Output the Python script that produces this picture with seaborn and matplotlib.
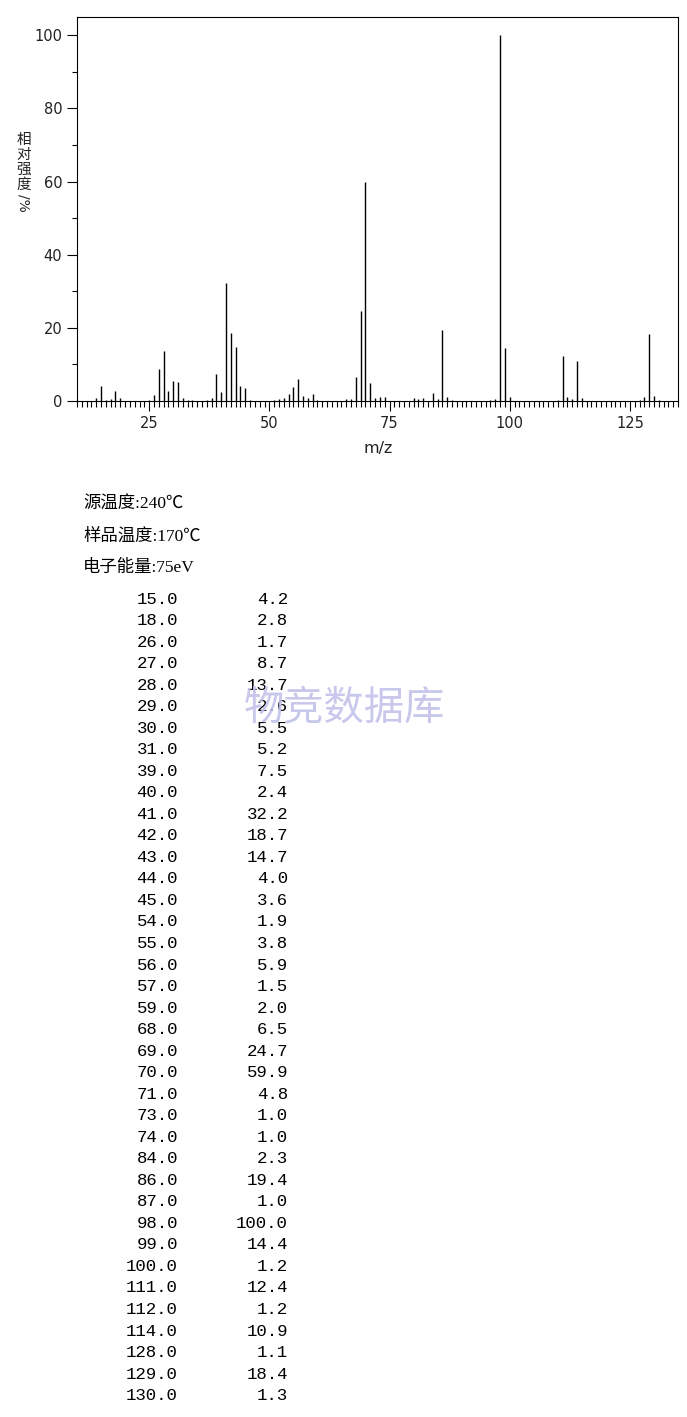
import matplotlib
matplotlib.use("Agg")
import matplotlib.pyplot as plt
import seaborn as sns
import numpy as np

# ---- data (from the listed peak table) ----
mz = [15.0, 18.0, 26.0, 27.0, 28.0, 29.0, 30.0, 31.0, 39.0, 40.0, 41.0, 42.0,
      43.0, 44.0, 45.0, 54.0, 55.0, 56.0, 57.0, 59.0, 68.0, 69.0, 70.0, 71.0,
      73.0, 74.0, 84.0, 86.0, 87.0, 98.0, 99.0, 100.0, 111.0, 112.0, 114.0,
      128.0, 129.0, 130.0]
intensity = [4.2, 2.8, 1.7, 8.7, 13.7, 2.6, 5.5, 5.2, 7.5, 2.4, 32.2, 18.7,
             14.7, 4.0, 3.6, 1.9, 3.8, 5.9, 1.5, 2.0, 6.5, 24.7, 59.9, 4.8,
             1.0, 1.0, 2.3, 19.4, 1.0, 100.0, 14.4, 1.2, 12.4, 1.2, 10.9,
             1.1, 18.4, 1.3]
# small (<1 %) peaks
mz_minor = [14, 16, 17, 19, 25, 32, 33, 34, 37, 38, 46, 51, 52, 53, 58, 60,
            66, 67, 72, 80, 81, 82, 85, 88, 96, 97, 110, 113, 115, 127, 131]
int_minor = [0.7, 0.4, 0.6, 0.9, 0.4, 0.9, 0.3, 0.3, 0.4, 0.9, 0.4, 0.4, 0.5,
             0.8, 0.7, 0.3, 0.5, 0.6, 0.7, 0.8, 0.6, 0.9, 0.6, 0.4, 0.4, 0.6,
             0.4, 0.6, 0.8, 0.4, 0.3]
info_lines = ["源温度:240℃", "样品温度:170℃", "电子能量:75eV"]
y_ticks = [0, 20, 40, 60, 80, 100]
x_ticks = [25, 50, 75, 100, 125]
ylabel_chars = ["相", "对", "强", "度"]

sns.set_theme(style="ticks")
plt.rcParams['font.family'] = ['DejaVu Sans', 'Noto Sans CJK SC']

W, H = 687, 1417
fig = plt.figure(figsize=(W / 100, H / 100), dpi=100)
fig.patch.set_facecolor("white")

def fx(px):
    return px / W

def fy(py):
    return 1 - py / H

ax = fig.add_axes([fx(77), fy(401), fx(678) - fx(77), fy(17) - fy(401)])
ax.set_facecolor("white")

all_mz = list(mz) + list(mz_minor)
all_int = list(intensity) + list(int_minor)
ax.vlines(all_mz, 0, all_int, colors="black", linewidth=1.0)

ax.set_xlim(10, 135)
ax.set_ylim(0, 105)
ax.set_yticks(y_ticks)
ax.set_yticklabels([str(v) for v in y_ticks])
ax.set_yticks(np.arange(10, 101, 20), minor=True)
ax.set_xticks(x_ticks)
ax.set_xticklabels([str(v) for v in x_ticks])
ax.set_xticks(np.arange(10, 136, 1), minor=True)

for s in ax.spines.values():
    s.set_color("black")
    s.set_linewidth(0.8)

ax.tick_params(axis="y", which="major", length=7.2, width=0.8, color="black",
               pad=3.5, labelsize=10.5, labelcolor="#222222", direction="out")
ax.tick_params(axis="y", which="minor", length=3.6, width=0.8, color="black",
               direction="out")
ax.tick_params(axis="x", which="major", length=7.5, width=0.8, color="black",
               pad=3.5, labelsize=10.5, labelcolor="#222222", direction="out")
ax.tick_params(axis="x", which="minor", length=4.3, width=0.8, color="black",
               direction="out")
ax.set_xlabel("")
ax.set_ylabel("")

# axis labels
fig.text(fx(378), fy(449), "m/z", ha="center", va="center", fontsize=11.5,
         color="#222222", family=["DejaVu Sans"])
for i, ch in enumerate(ylabel_chars):
    fig.text(fx(24), fy(140 + i * 15), ch, ha="center", va="center",
             fontsize=10.5, color="#222222", family=["Noto Sans CJK SC"])
fig.text(fx(24), fy(203), "/%", ha="center", va="center", fontsize=10,
         rotation=270, color="#222222", family=["DejaVu Sans"])

# info lines
for i, line in enumerate(info_lines):
    fig.text(fx(83), fy(505 + i * 31.5), line, ha="left", va="center",
             fontsize=12.5, color="black",
             family=["Liberation Serif", "Noto Sans CJK SC", "DejaVu Sans"])

# peak table
row0, step = 599, 21.53
for i, (m, v) in enumerate(zip(mz, intensity)):
    yy = fy(row0 + i * step)
    fig.text(fx(178), yy, f"{m:.1f}", ha="right", va="center", fontsize=12.5,
             family=["Liberation Mono"], color="black")
    fig.text(fx(288), yy, f"{v:.1f}", ha="right", va="center", fontsize=12.5,
             family=["Liberation Mono"], color="black")

# watermark
fig.text(fx(344), fy(708), "物竞数据库", ha="center", va="center", fontsize=29,
         color="#c2c2ea", alpha=0.9, family=["Noto Sans CJK SC"], zorder=10)

fig.savefig("out.png", dpi=100, facecolor="white")
